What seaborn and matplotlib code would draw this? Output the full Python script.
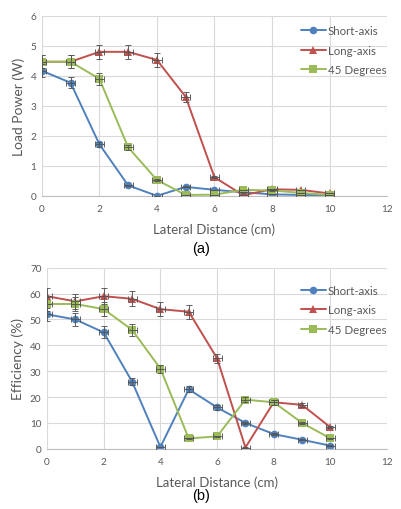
import numpy as np
import pandas as pd
import matplotlib
matplotlib.use("Agg")
import matplotlib.pyplot as plt
import seaborn as sns
from matplotlib.lines import Line2D

# Lateral distance (cm)
distance = [0, 1, 2, 3, 4, 5, 6, 7, 8, 9, 10]
series_names = ["Short-axis", "Long-axis", "45 Degrees"]

# (a) load power (W)
power_short = [4.17, 3.77, 1.72, 0.35, 0.00, 0.30, 0.20, 0.12, 0.05, 0.03, 0.02]
power_long = [4.47, 4.47, 4.80, 4.80, 4.53, 3.30, 0.62, 0.02, 0.22, 0.20, 0.08]
power_45 = [4.47, 4.47, 3.90, 1.62, 0.53, 0.03, 0.04, 0.20, 0.18, 0.10, 0.03]
power_err_short = [0.21, 0.19, 0.09, 0.02, 0.00, 0.02, 0.01, 0.01, 0.00, 0.00, 0.00]
power_err_long = [0.22, 0.22, 0.24, 0.24, 0.23, 0.17, 0.03, 0.00, 0.01, 0.01, 0.00]
power_err_45 = [0.22, 0.22, 0.19, 0.08, 0.03, 0.00, 0.00, 0.01, 0.01, 0.01, 0.00]

# (b) efficiency (%)
eff_short = [52, 50, 45, 26, 0.7, 23, 16, 10, 5.7, 3.5, 1.2]
eff_long = [59, 57, 59, 58, 54, 53, 35, 0.5, 18, 17, 8.3]
eff_45 = [56, 56, 54, 46, 31, 4, 4.8, 19, 18, 10, 4]
eff_err_short = [2.6, 2.5, 2.3, 1.3, 0.1, 1.2, 0.8, 0.5, 0.3, 0.2, 0.1]
eff_err_long = [3.0, 2.9, 3.0, 2.9, 2.7, 2.7, 1.8, 0.1, 0.9, 0.9, 0.4]
eff_err_45 = [2.8, 2.8, 2.7, 2.3, 1.6, 0.2, 0.2, 1.0, 0.9, 0.5, 0.2]

x_err = 0.16  # horizontal error bar half-width (cm)

colors = {"Short-axis": "#4F81BD", "Long-axis": "#C0504D", "45 Degrees": "#9BBB59"}
markers = {"Short-axis": "o", "Long-axis": "^", "45 Degrees": "s"}

sns.set_style("white")
plt.rcParams["font.family"] = ["Lato", "DejaVu Sans"]
text_grey = "#595959"


def make_frame(a, b, c, ea, eb, ec):
    rows = []
    for name, vals, errs in zip(series_names, [a, b, c], [ea, eb, ec]):
        for d, v, e in zip(distance, vals, errs):
            rows.append({"distance": d, "value": v, "err": e, "series": name})
    return pd.DataFrame(rows)


def draw_panel(ax, df, ymax, ystep, ylabel, legend_anchor):
    sns.lineplot(data=df, x="distance", y="value", hue="series", style="series",
                 palette=colors, markers=markers, dashes=False, linewidth=1.4,
                 markersize=5.5, markeredgewidth=0, ax=ax, legend=False, zorder=2)
    for name in series_names:
        sub = df[df["series"] == name]
        ax.errorbar(sub["distance"], sub["value"], yerr=sub["err"], xerr=x_err,
                    fmt="none", ecolor="#555555", elinewidth=0.65, capsize=2,
                    capthick=0.65, zorder=3)
    ax.set_xlim(0, 12)
    ax.set_ylim(0, ymax)
    ax.set_xticks(range(0, 13, 2))
    ax.set_yticks(np.arange(0, ymax + ystep / 2, ystep))
    ax.grid(True, color="#D9D9D9", linewidth=0.8)
    ax.set_axisbelow(True)
    for side in ["top", "right", "left"]:
        ax.spines[side].set_visible(False)
    ax.spines["bottom"].set_color("#BFBFBF")
    ax.tick_params(axis="both", length=0, labelsize=7.2, colors=text_grey, pad=4)
    ax.tick_params(axis="x", pad=6)
    ax.set_xlabel("Lateral Distance (cm)", fontsize=9.5, color=text_grey, labelpad=7)
    ax.set_ylabel(ylabel, fontsize=10, color=text_grey, labelpad=4)

    handles = [Line2D([0], [0], color=colors[n], marker=markers[n], linewidth=1.4,
                      markersize=5.5, markeredgewidth=0) for n in series_names]
    leg = ax.legend(handles, series_names, loc="upper left",
                    bbox_to_anchor=legend_anchor, bbox_transform=ax.figure.transFigure,
                    frameon=False, fontsize=8.3, handlelength=2.2, handletextpad=0.15,
                    labelspacing=0.75, borderpad=0, borderaxespad=0)
    for t in leg.get_texts():
        t.set_color(text_grey)


fig = plt.figure(figsize=(4.02, 5.10), dpi=100)
ax1 = fig.add_axes([0.104, 0.614, 0.859, 0.353])
ax2 = fig.add_axes([0.117, 0.118, 0.846, 0.355])

df_power = make_frame(power_short, power_long, power_45,
                      power_err_short, power_err_long, power_err_45)
df_eff = make_frame(eff_short, eff_long, eff_45,
                    eff_err_short, eff_err_long, eff_err_45)

draw_panel(ax1, df_power, 6, 1, "Load Power (W)", (0.748, 0.949))
draw_panel(ax2, df_eff, 70, 10, "Efficiency (%)", (0.748, 0.440))

fig.text(0.5, 1 - 249 / 510, "(a)", ha="center", va="center", fontsize=10.5,
         family=["Liberation Sans", "DejaVu Sans"], color="black")
fig.text(0.5, 1 - 496 / 510, "(b)", ha="center", va="center", fontsize=10.5,
         family=["Liberation Sans", "DejaVu Sans"], color="black")

fig.savefig("out.png", dpi=100, facecolor="white")
